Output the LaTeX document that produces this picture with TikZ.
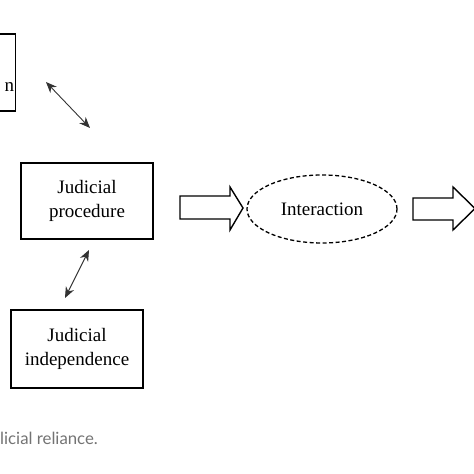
\documentclass[tikz,border=0pt]{standalone}
\usepackage{fontspec}
\setmainfont{Liberation Serif}
\newfontfamily\capfont{Lato}
\usetikzlibrary{arrows.meta,shapes.geometric}

\begin{document}
\begin{tikzpicture}[x=1pt, y=1pt,
    box/.style={draw, line width=1.4pt, minimum width=132pt, minimum height=77pt, align=center, font=\fontsize{19}{23.5}\selectfont},
    link/.style={{Stealth[length=11pt,width=9pt]}-{Stealth[length=11pt,width=9pt]}, line width=0.9pt, black!80},
    blockarr/.style={draw, line width=1.4pt, line join=miter}]
\useasboundingbox (0,0) rectangle (474,474);
\clip (0,0) rectangle (474,474);

% Boxes
\node[box] (top) at (-50.5,401.5) {};
\node[font=\fontsize{19}{23.5}\selectfont, inner sep=0] (topend) at (9.5,387) {n};
\node[box, minimum height=76pt] (proc) at (87,273) {Judicial\\procedure};
\node[box, minimum height=78pt] (indep) at (77,125) {Judicial\\independence};

% Interaction
\node[draw, ellipse, line width=1.3pt, dash pattern=on 4pt off 2.5pt, minimum width=150pt, minimum height=68pt,
    font=\fontsize{19}{23.5}\selectfont] (inter) at (322,265) {Interaction};

% Links between the factors
\coordinate (l1a) at (46,392);
\coordinate (l1b) at (90,346);
\coordinate (l2a) at (89,224);
\coordinate (l2b) at (65,176);
\draw[link] (l1a) -- (l1b);
\draw[link] (l2a) -- (l2b);

% Block arrows
\draw[blockarr] (180,278) -- (230,278) -- (230,287) -- (243,266) -- (230,244) -- (230,255) -- (180,255) -- cycle;
\draw[blockarr] (413,276) -- (453,276) -- (453,287) -- (475,265.5) -- (453,244) -- (453,254) -- (413,254) -- cycle;

% Caption
\node[anchor=base west, inner sep=0, text=black!55, font=\capfont\fontsize{16.8}{20}\selectfont] (cap) at (0,29) {licial reliance.};
\end{tikzpicture}
\end{document}
